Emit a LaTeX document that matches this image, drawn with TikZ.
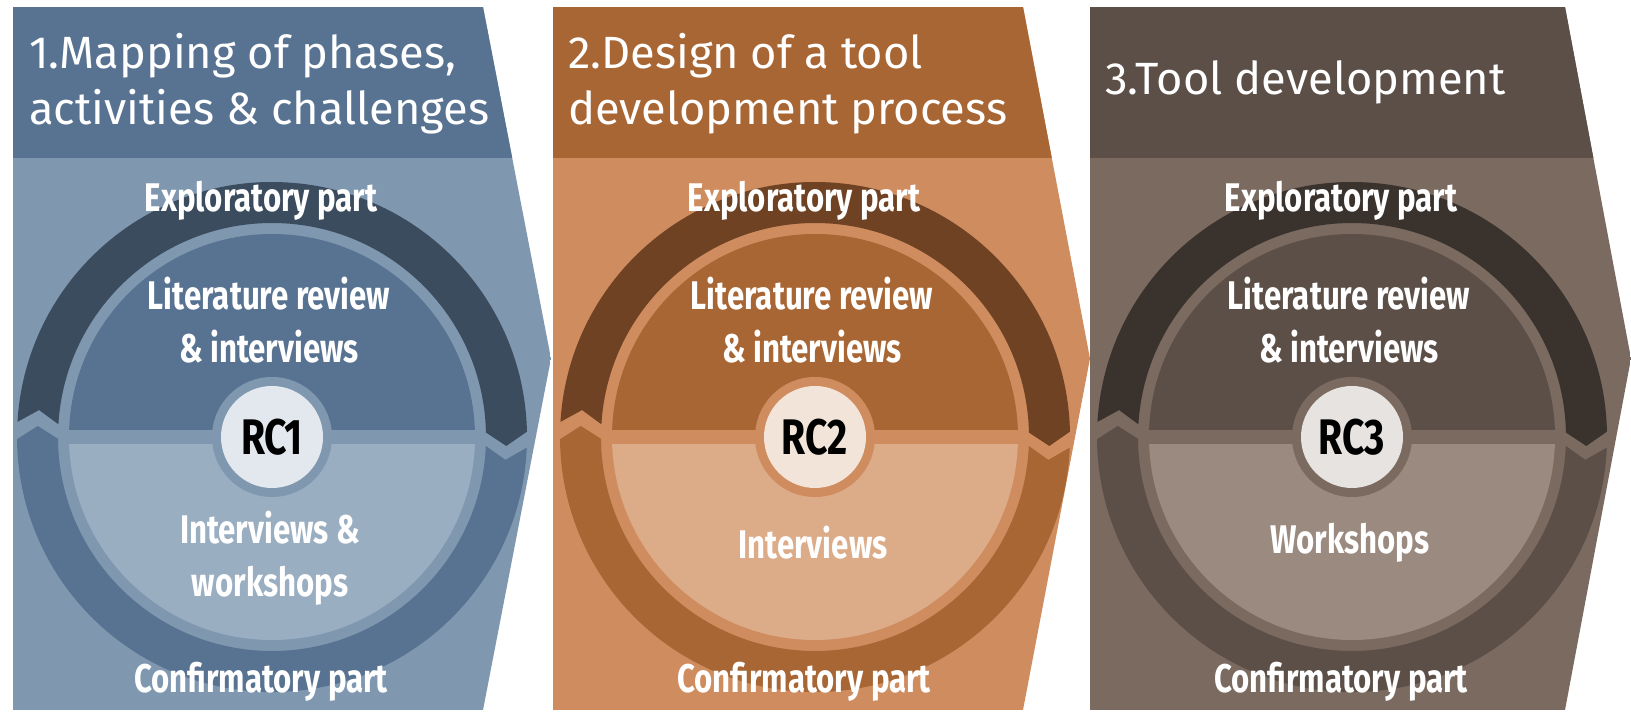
\documentclass[tikz,border=0pt]{standalone}
\usepackage{fontspec}
\setmainfont{Fira Sans}
\newfontfamily\condfont[FakeStretch=0.78]{Fira Sans}
\newfontfamily\headfont{Fira Sans}
\definecolor{bHead}{HTML}{587391}
\definecolor{bBody}{HTML}{7F98B0}
\definecolor{bDark}{HTML}{3B4C5E}
\definecolor{bLow}{HTML}{9AAEC2}
\definecolor{bCen}{HTML}{E3E8EE}
\definecolor{oHead}{HTML}{A86634}
\definecolor{oBody}{HTML}{CF8C5F}
\definecolor{oDark}{HTML}{6E4222}
\definecolor{oLow}{HTML}{DCAB88}
\definecolor{oCen}{HTML}{F3E4D9}
\definecolor{nHead}{HTML}{5B4F47}
\definecolor{nBody}{HTML}{7A6A60}
\definecolor{nDark}{HTML}{3A322D}
\definecolor{nLow}{HTML}{9B8A80}
\definecolor{nCen}{HTML}{E6E3E0}
\tikzset{
  bodytext/.style={text=white, inner sep=0pt, align=center, font=\condfont\bfseries\fontsize{40}{53}\selectfont},
  rctext/.style={text=black, inner sep=0pt, font=\condfont\bfseries\fontsize{50}{54}\selectfont},
  headtext/.style={text=white, inner sep=0pt, align=left, anchor=west, font=\headfont\fontsize{45.2}{56}\selectfont},
}
% #1 L, #2 R, #3 tip x, #4 cx, #5 colour prefix, #6 name, #7 RC text, #8 lower text, #9 lower text y
\newcommand\drawpanel[9]{%
  \begin{scope}
    \clip (#1,15) -- (#1,718) -- (#2,718) -- (#3,366.5) -- (#2,15) -- cycle;
    \fill[#5Body] (#1,15) rectangle (#3,718);
    \fill[#5Head] (#1,567) rectangle (#3,718);
  \end{scope}
  \begin{scope}[shift={(#4,288)}]
    \fill[#5Dark] (176.6:255) arc[start angle=176.6,end angle=1.2,radius=255]
      -- (-2.2:234.5) -- (1.2:214) arc[start angle=1.2,end angle=176.6,radius=214]
      -- (173.4:234.5) -- cycle;
    \fill[#5Head] (-2.4:255) arc[start angle=-2.4,end angle=-179.5,radius=255]
      -- (-182.7:234.5) -- (-179.5:214) arc[start angle=-179.5,end angle=-2.4,radius=214]
      -- (-5.6:234.5) -- cycle;
    \fill[#5Head] (203,0) arc[start angle=0,end angle=180,radius=203] -- cycle;
    \fill[#5Low] (-203,0) arc[start angle=180,end angle=360,radius=203] -- cycle;
    \fill[#5Body] (-205,-7) rectangle (205,7);
    \fill[#5Body] (0,0) circle[radius=60];
    \fill[#5Cen] (0,0) circle[radius=51];
  \end{scope}
  \node[bodytext] (#6-expl) at (#4-11,524) {Exploratory part};
  \node[bodytext] (#6-lit) at (#4-3,405) {Literature review\\\& interviews};
  \node[rctext] (#6-rc) at (#4,288) {#7};
  \node[bodytext] (#6-low) at (#4-2,#9) {#8};
  \node[bodytext] (#6-conf) at (#4-11,43) {Confirmatory part};
}
\begin{document}
\begin{tikzpicture}[x=1pt,y=1pt]
\useasboundingbox (0,0) rectangle (1631,725);
\fill[white] (0,0) rectangle (1631,725);
\drawpanel{12.5}{483}{551}{272}{b}{p1}{RC1}{Interviews \&\\workshops}{167}
\drawpanel{553}{1023}{1090}{815}{o}{p2}{RC2}{Interviews}{182}
\drawpanel{1090}{1565}{1631}{1352}{n}{p3}{RC3}{Workshops}{182}
\node[headtext] (p1-title) at (29,641) {1.Mapping of phases,\\activities \& challenges};
\node[headtext] (p2-title) at (568,641) {2.Design of a tool\\development process};
\node[headtext] (p3-title) at (1105,643) {3.Tool development};
\end{tikzpicture}
\end{document}
